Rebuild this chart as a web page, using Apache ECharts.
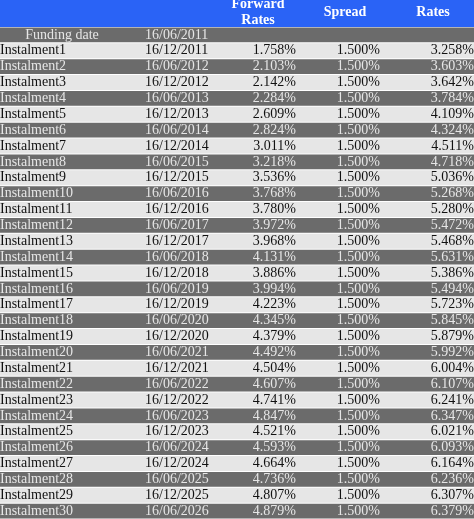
<!DOCTYPE html>
<html><head><meta charset="utf-8">
<script src="https://cdn.jsdelivr.net/npm/echarts@6/dist/echarts.min.js"></script>
<style>html,body{margin:0;background:#fff}#c{width:474px;height:519px}</style>
</head><body><div id="c"></div>
<script>
var labels = ['Funding date'];
for (var i = 1; i <= 30; i++) labels.push('Instalment' + i);
var dates = ['16/06/2011','16/12/2011','16/06/2012','16/12/2012','16/06/2013','16/12/2013','16/06/2014','16/12/2014','16/06/2015','16/12/2015','16/06/2016','16/12/2016','16/06/2017','16/12/2017','16/06/2018','16/12/2018','16/06/2019','16/12/2019','16/06/2020','16/12/2020','16/06/2021','16/12/2021','16/06/2022','16/12/2022','16/06/2023','16/12/2023','16/06/2024','16/12/2024','16/06/2025','16/12/2025','16/06/2026'];
var forward = [null,'1.758%','2.103%','2.142%','2.284%','2.609%','2.824%','3.011%','3.218%','3.536%','3.768%','3.780%','3.972%','3.968%','4.131%','3.886%','3.994%','4.223%','4.345%','4.379%','4.492%','4.504%','4.607%','4.741%','4.847%','4.521%','4.593%','4.664%','4.736%','4.807%','4.879%'];
var spread = [null];
for (var j = 1; j <= 30; j++) spread.push('1.500%');
var rates = [null,'3.258%','3.603%','3.642%','3.784%','4.109%','4.324%','4.511%','4.718%','5.036%','5.268%','5.280%','5.472%','5.468%','5.631%','5.386%','5.494%','5.723%','5.845%','5.879%','5.992%','6.004%','6.107%','6.241%','6.347%','6.021%','6.093%','6.164%','6.236%','6.307%','6.379%'];
var headers = ['', '', 'Forward\nRates', 'Spread', 'Rates'];

var colX = [0, 145, 296, 380, 474];
var font = '14px "Liberation Serif", "Times New Roman", serif';
var hfont = 'bold 14px "Liberation Serif", serif';
var chart = echarts.init(document.getElementById('c'));
chart.setOption({
  animation: false,
  grid: { left: 0, right: 0, top: 27, bottom: 0 },
  xAxis: { type: 'value', min: 0, max: 474, show: false },
  yAxis: { type: 'category', data: labels, inverse: true, show: false },
  graphic: [
    { type: 'rect', shape: { x: 0, y: 0, width: 474, height: 27 }, style: { fill: '#2a63f6' } },
    { type: 'text', x: 258, y: 12, style: { text: headers[2], font: hfont, fill: '#fff', align: 'center', verticalAlign: 'middle', lineHeight: 16 } },
    { type: 'text', x: 345, y: 12, style: { text: headers[3], font: hfont, fill: '#fff', align: 'center', verticalAlign: 'middle' } },
    { type: 'text', x: 433, y: 12, style: { text: headers[4], font: hfont, fill: '#fff', align: 'center', verticalAlign: 'middle' } }
  ],
  series: [{
    type: 'custom',
    data: labels.map(function (l, i) { return [0, i]; }),
    renderItem: function (params, api) {
      var i = api.value(1);
      var c = api.coord([0, i]);
      var h = api.size([0, 1])[1];
      var top = c[1] - h / 2;
      var dark = i % 2 === 0;
      var fg = dark ? '#e6e6e6' : '#111';
      var bg = dark ? '#6b6b6b' : '#e6e6e6';
      var kids = [
        { type: 'rect', shape: { x: 0, y: top + 0.5, width: 474, height: h - 1 }, style: { fill: bg } }
      ];
      function txt(s, x, align) {
        if (s == null) return;
        kids.push({ type: 'text', x: x, y: c[1], style: { text: s, font: font, fill: fg, align: align, verticalAlign: 'middle' } });
      }
      if (i === 0) txt(labels[i], 62, 'center'); else txt(labels[i], 0, 'left');
      txt(dates[i], api.coord([colX[1], i])[0], 'left');
      txt(forward[i], api.coord([colX[2], i])[0], 'right');
      txt(spread[i], api.coord([colX[3], i])[0], 'right');
      txt(rates[i], api.coord([colX[4], i])[0], 'right');
      return { type: 'group', children: kids };
    }
  }]
});
</script></body></html>
